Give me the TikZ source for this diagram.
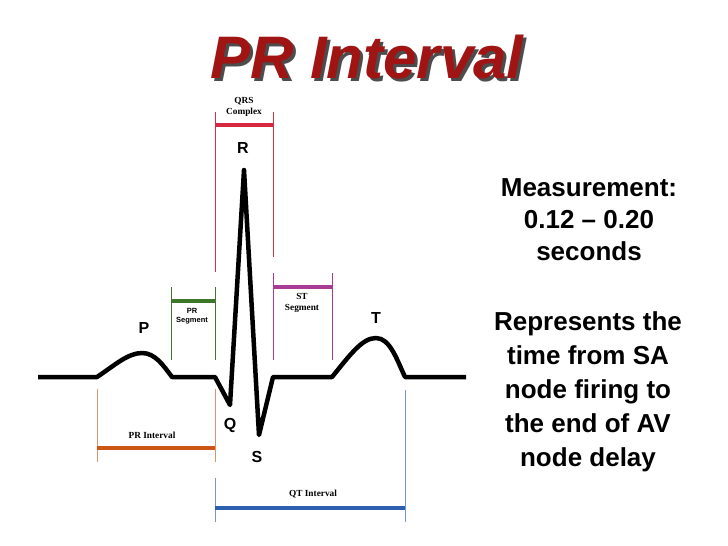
\documentclass[tikz,border=0pt]{standalone}
\usepackage{fontspec}
\setmainfont{Liberation Serif}
\newfontfamily\arial{Liberation Sans}
\begin{document}
\begin{tikzpicture}[x=1pt,y=-1pt,
  guide/.style={line width=0.7pt},
  bar/.style={line width=3.5pt},
  lbl/.style={font=\arial\bfseries\fontsize{16}{16}\selectfont},
  small/.style={font=\bfseries\fontsize{9.3}{11}\selectfont,align=center,inner sep=0},
  ecg/.style={line width=4.5pt,line join=round}]
\useasboundingbox (0,0) rectangle (728,546);
% title
\node (tsh) at (370,60) {\arial\bfseries\itshape\fontsize{60}{60}\selectfont\color{black!70}PR Interval};
\node (title) at (367,57) {\arial\bfseries\itshape\fontsize{60}{60}\selectfont\color[RGB]{160,20,20}PR Interval};
% ECG
\draw[ecg] (38,377) -- (97,377) .. controls (115,365) and (128,353) .. (142,353) .. controls (155,353) and (163,365) .. (172,377)
  -- (215,377) -- (230,405) -- (244,170) -- (259,435) -- (273,377) -- (332,377)
  .. controls (350,355) and (362,338) .. (376,338) .. controls (390,338) and (397,360) .. (405,377) -- (466,377);
% QRS
\draw[guide,color={rgb,255:red,210;green,50;blue,70}] (215,112) -- (215,272) (273,112) -- (273,257);
\draw[bar,color={rgb,255:red,215;green,40;blue,65}] (215,125) -- (273,125);
\node[small] (qrs) at (244,107) {QRS\\Complex};
% PR segment
\draw[guide,color={rgb,255:red,60;green,120;blue,40}] (171,287) -- (171,360) (215,287) -- (215,360);
\draw[bar,color={rgb,255:red,60;green,120;blue,40}] (171,301) -- (215,301);
\node[small,font=\arial\bfseries\fontsize{7.5}{9}\selectfont] (prs) at (192,316) {PR\\Segment};
% ST segment
\draw[guide,color={rgb,255:red,170;green,60;blue,150}] (273,273) -- (273,360) (332,273) -- (332,360);
\draw[bar,color={rgb,255:red,170;green,60;blue,150}] (273,287) -- (332,287);
\node[small] (sts) at (302,303) {ST\\Segment};
% PR interval
\draw[guide,color={rgb,255:red,215;green,150;blue,110}] (97,389) -- (97,462) (215,389) -- (215,462);
\draw[bar,color={rgb,255:red,205;green,85;blue,20}] (97,448) -- (215,448);
\node[small] (pri) at (152,435) {PR Interval};
% QT interval
\draw[guide,color={rgb,255:red,120;green,150;blue,200}] (215,478) -- (215,522) (405,390) -- (405,522);
\draw[bar,color={rgb,255:red,45;green,95;blue,175}] (215,508) -- (405,508);
\node[small] (qti) at (313,494) {QT Interval};
% wave labels
\node[lbl] (R) at (243,148) {R};
\node[lbl] (P) at (144,328) {P};
\node[lbl] (T) at (376,318) {T};
\node[lbl] (Q) at (230,425) {Q};
\node[lbl] (S) at (257,457) {S};
% text
\node[font=\arial\bfseries\fontsize{26}{32}\selectfont,align=center] (m) at (589,220) {Measurement:\\0.12 – 0.20\\seconds};
\node[font=\arial\bfseries\fontsize{26}{34}\selectfont,align=center] (r) at (588,392) {Represents the\\time from SA\\node firing to\\the end of AV\\node delay};
\end{tikzpicture}
\end{document}
